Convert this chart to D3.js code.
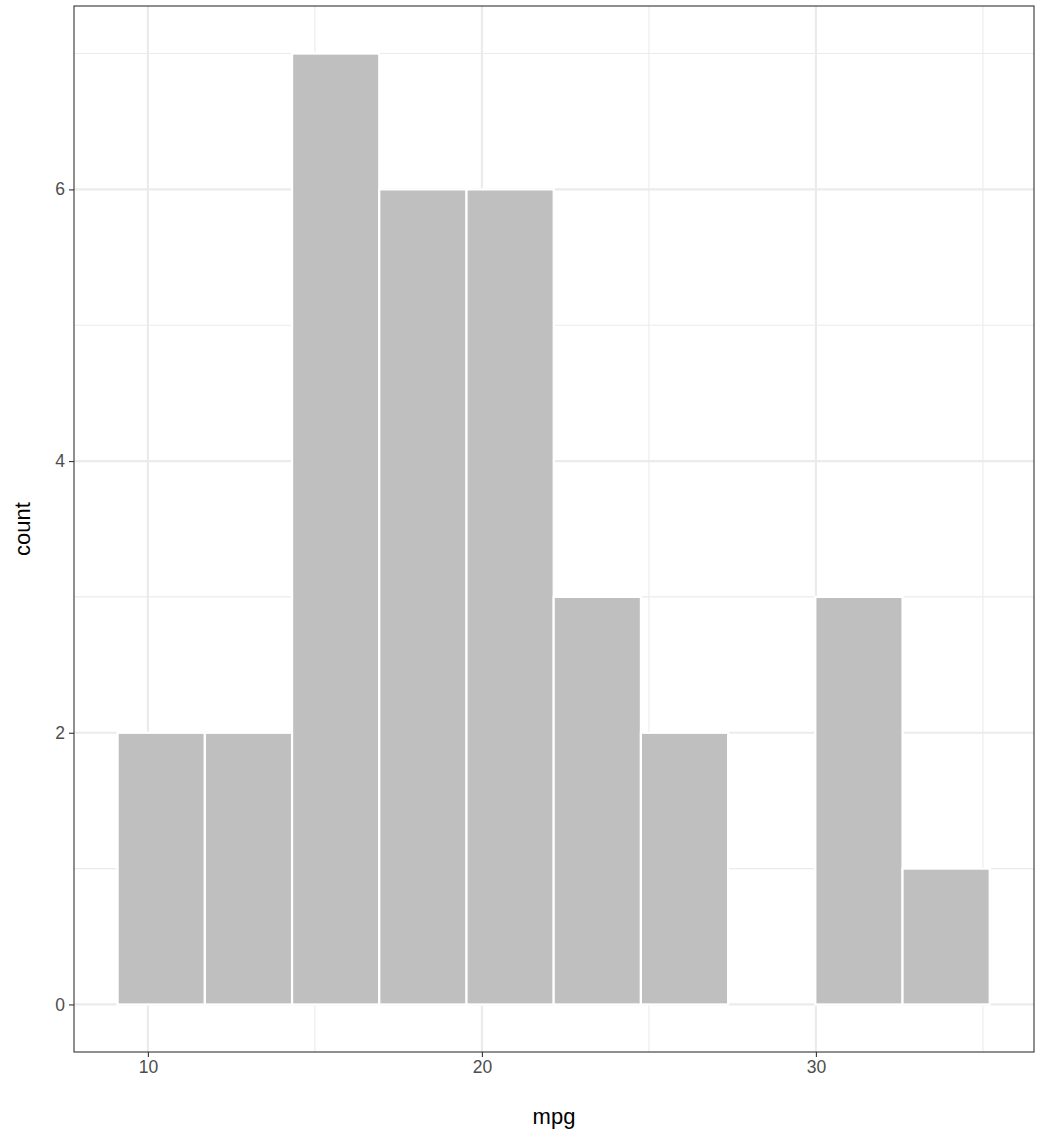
<!DOCTYPE html><html><head><meta charset="utf-8"><script src="https://cdn.jsdelivr.net/npm/d3@7"></script>
<style>body{margin:0;background:#fff}text{font-family:"Liberation Sans",Arial,sans-serif}</style></head><body><svg id="c" width="1046" height="1136"></svg><script>
const binStart=[9.094,11.706,14.317,16.928,19.539,22.150,24.761,27.372,29.983,32.594];
const binWidth=2.611;
const counts=[2,2,7,6,6,3,2,0,3,1];
const xTicks=[10,20,30], xMinor=[15,25,35];
const yTicks=[0,2,4,6], yMinor=[1,3,5,7];
const svg=d3.select("#c");
const L=74,R=1034,T=6,B=1052;
const x=d3.scaleLinear().domain([7.788,36.53]).range([L,R]);
const y=d3.scaleLinear().domain([-0.35,7.35]).range([B,T]);
const g=svg.append("g");
xMinor.forEach(v=>g.append("line").attr("x1",x(v)).attr("x2",x(v)).attr("y1",T).attr("y2",B).attr("stroke","#EBEBEB").attr("stroke-width",1.1));
yMinor.forEach(v=>g.append("line").attr("x1",L).attr("x2",R).attr("y1",y(v)).attr("y2",y(v)).attr("stroke","#EBEBEB").attr("stroke-width",1.1));
xTicks.forEach(v=>g.append("line").attr("x1",x(v)).attr("x2",x(v)).attr("y1",T).attr("y2",B).attr("stroke","#EBEBEB").attr("stroke-width",2.2));
yTicks.forEach(v=>g.append("line").attr("x1",L).attr("x2",R).attr("y1",y(v)).attr("y2",y(v)).attr("stroke","#EBEBEB").attr("stroke-width",2.2));
g.selectAll("rect.b").data(counts).join("rect").attr("x",(d,i)=>x(binStart[i])).attr("width",(d,i)=>x(binStart[i]+binWidth)-x(binStart[i]))
 .attr("y",d=>y(d)).attr("height",d=>y(0)-y(d)).attr("fill","#BFBFBF").attr("stroke","#fff").attr("stroke-width",2.2);
svg.append("rect").attr("x",L).attr("y",T).attr("width",R-L).attr("height",B-T).attr("fill","none").attr("stroke","#333").attr("stroke-width",1.1);
svg.append("g").attr("transform",`translate(0,${B})`).call(d3.axisBottom(x).tickValues(xTicks).tickSize(5).tickPadding(4))
 .call(a=>{a.select(".domain").remove();a.selectAll("line").attr("stroke","#333").attr("stroke-width",1.1);a.selectAll("text").attr("fill","#4D4D4D").attr("font-size",17.5)});
svg.append("g").attr("transform",`translate(${L},0)`).call(d3.axisLeft(y).tickValues(yTicks).tickSize(5).tickPadding(4))
 .call(a=>{a.select(".domain").remove();a.selectAll("line").attr("stroke","#333").attr("stroke-width",1.1);a.selectAll("text").attr("fill","#4D4D4D").attr("font-size",17.5)});
svg.append("text").attr("x",(L+R)/2).attr("y",1124).attr("text-anchor","middle").attr("font-size",22).text("mpg");
svg.append("text").attr("transform",`translate(30,${(T+B)/2}) rotate(-90)`).attr("text-anchor","middle").attr("font-size",22).text("count");
</script></body></html>
